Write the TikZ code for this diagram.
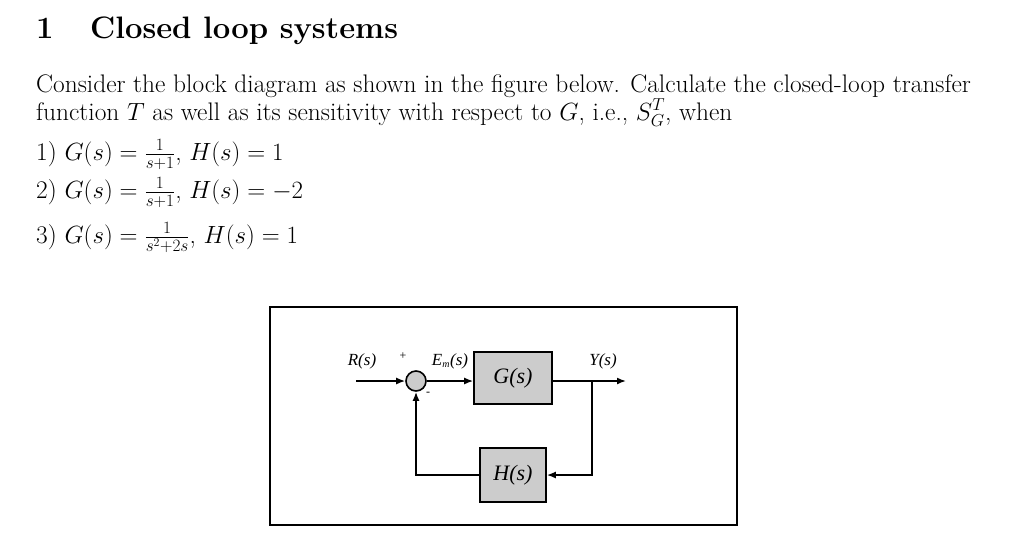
\documentclass[tikz,border=0pt]{standalone}
\usepackage{fontspec}
\newfontfamily\tim{Liberation Serif}
\usetikzlibrary{arrows.meta}
\begin{document}
\begin{tikzpicture}[x=1pt,y=-1pt,
  txt/.style={anchor=base west,inner sep=0pt,font=\fontsize{25.4}{30}\selectfont},
  blk/.style={draw,fill=gray!40,line width=1.6pt,inner sep=0pt,font=\tim\itshape\fontsize{22}{24}\selectfont},
  lbl/.style={inner sep=0pt,font=\tim\itshape\fontsize{17}{19}\selectfont},
  sig/.style={line width=1.6pt,-{Latex[length=9pt,width=7pt]}},
  ln/.style={line width=1.6pt}]
\useasboundingbox (0,0) rectangle (1024,547);
\node[anchor=base west,inner sep=0pt,font=\fontsize{31}{34}\bfseries] (t1) at (36,38) {1};
\node[anchor=base west,inner sep=0pt,font=\fontsize{31}{34}\bfseries] (t2) at (90,38) {Closed loop systems};
\node[txt] (p1) at (36,92) {Consider the block diagram as shown in the figure below. Calculate the closed-loop transfer};
\node[txt] (p2) at (36,120) {function $T$ as well as its sensitivity with respect to $G$, i.e., $S_G^T$, when};
\node[txt] (c1) at (36,160) {1) $G(s)=\frac{1}{s+1}$, $H(s)=1$};
\node[txt] (c2) at (36,198) {2) $G(s)=\frac{1}{s+1}$, $H(s)=-2$};
\node[txt] (c3) at (36,243) {3) $G(s)=\frac{1}{s^2+2s}$, $H(s)=1$};
\draw[line width=1.6pt] (270,307) rectangle (737,525);
\node[draw,circle,fill=gray!40,line width=1.6pt,minimum size=20pt,inner sep=0pt] (sum) at (416,381) {};
\node[blk,minimum width=78pt,minimum height=52pt] (G) at (513,378) {G(s)};
\node[blk,minimum width=66pt,minimum height=54pt] (H) at (513,475) {H(s)};
\coordinate (in) at (356,381);
\coordinate (br) at (592,381);
\coordinate (out) at (626,381);
\draw[sig] (in) -- (sum);
\draw[sig] (sum) -- (G.west|-sum);
\draw[ln] (G.east|-br) -- (br);
\draw[sig] (br) -- (out);
\draw[sig] (br) |- (H.east);
\draw[sig] (H.west) -| (sum.south);
\node[lbl] (lr) at (362,361) {R(s)};
\node[lbl,font=\tim\fontsize{12}{12}\selectfont] (lp) at (403,356) {+};
\node[lbl] (le) at (450,361) {E\textsubscript{\fontsize{10}{10}\selectfont m}(s)};
\node[lbl] (ly) at (603,361) {Y(s)};
\node[lbl,font=\tim\fontsize{12}{12}\selectfont] (lm) at (428,394) {-};
\end{tikzpicture}
\end{document}
